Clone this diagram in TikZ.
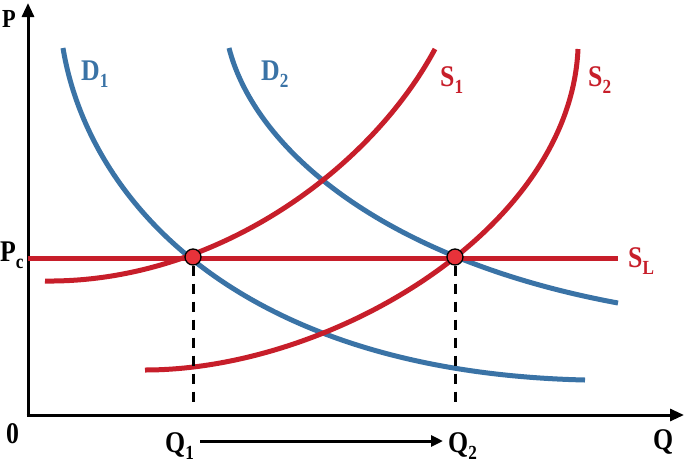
\documentclass[tikz,border=0pt]{standalone}
\usepackage{fontspec}
\setmainfont{Liberation Serif}[FakeStretch=0.86]
\usetikzlibrary{arrows.meta}
\definecolor{dblue}{HTML}{3A73A6}
\definecolor{sred}{HTML}{C71E2A}
\definecolor{dotred}{HTML}{E8323A}
\newcommand\lbl[2]{#1\raisebox{-0.26em}{\fontsize{20}{20}\selectfont #2}}
\begin{document}
\begin{tikzpicture}[x=1pt,y=-1pt,
  axis/.style={line width=3pt,-{Triangle[length=14pt,width=12pt]}},
  dcurve/.style={dblue,line width=5pt},
  scurve/.style={sred,line width=5pt},
  lab/.style={anchor=base west,inner sep=0pt,font=\fontsize{30}{30}\selectfont\bfseries},
  dlab/.style={lab,text=dblue},
  slab/.style={lab,text=sred},
  eqdot/.style={circle,draw=black,line width=1.3pt,fill=dotred,minimum size=16pt,inner sep=0pt},
  guide/.style={black,line width=3pt,dash pattern=on 10pt off 8pt},
  qarrow/.style={line width=3pt,-{Triangle[length=12pt,width=11pt]}}]
\useasboundingbox (0,0) rectangle (685,464);
% axes
\coordinate (o) at (28,415);
\coordinate (ytop) at (28,3);
\coordinate (xend) at (684,415);
\draw[axis] (o) -- (ytop);
\draw[axis] ([xshift=-1.5pt]o) -- (xend);
% demand curves
\draw[dcurve] (63,48) .. controls (88,200) and (238,372) .. (585,380);
\draw[dcurve] (229,48) .. controls (255,150) and (385,260) .. (618,303);
% supply curves
\draw[scurve] (45,281) .. controls (215,283) and (370,170) .. (435,49);
\draw[scurve] (145,370) .. controls (330,370) and (570,230) .. (578,49);
\coordinate (slstart) at (28,258);
\coordinate (slend) at (618,258);
\draw[scurve] (slstart) -- (slend);
% equilibria
\node[eqdot] (e1) at (193,257) {};
\node[eqdot] (e2) at (455,257) {};
\coordinate (q1base) at (193,408);
\coordinate (q2base) at (455,408);
\draw[guide] (e1.south) -- (q1base);
\draw[guide] (e2.south) -- (q2base);
% labels
\node[lab,font=\fontsize{26}{26}\selectfont\bfseries] (P) at (2,27) {P};
\node[lab] (Pc) at (0,261) {\lbl{P}{c}};
\node[lab] (zero) at (6,443) {0};
\node[lab] (Q) at (653,449) {Q};
\node[lab] (q1) at (165,452) {\lbl{Q}{1}};
\node[lab] (q2) at (448,452) {\lbl{Q}{2}};
\node[dlab] (d1) at (81,80) {\lbl{D}{1}};
\node[dlab] (d2) at (261,80) {\lbl{D}{2}};
\node[slab] (s1) at (440,86) {\lbl{S}{1}};
\node[slab] (s2) at (588,86) {\lbl{S}{2}};
\node[slab] (sl) at (628,267) {\lbl{S}{L}};
\coordinate (ay) at (0,441);
\draw[qarrow] ([xshift=6pt]q1.east |- ay) -- ([xshift=-5pt]q2.west |- ay);
\end{tikzpicture}
\end{document}
